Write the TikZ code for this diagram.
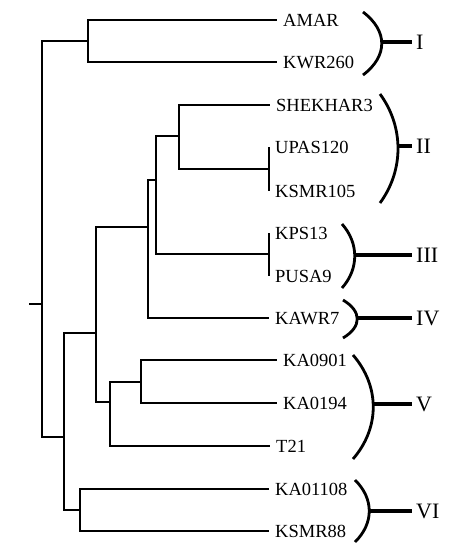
\documentclass[tikz,border=0pt]{standalone}
\usepackage{fontspec}
\setmainfont{Liberation Serif}
\usetikzlibrary{positioning}

\begin{document}
\begin{tikzpicture}[
  x=1pt, y=-1pt,
  font=\fontsize{18.5}{20}\selectfont,
  leaf/.style={anchor=west, inner xsep=6pt, inner ysep=0pt, text height=12pt, text depth=0pt},
  num/.style={anchor=west, inner xsep=4pt, inner ysep=0pt, font=\fontsize{22}{24}\selectfont, text height=14.5pt, text depth=0pt},
  br/.style={line width=2pt},
  bkt/.style={line width=2.8pt},
  bkl/.style={line width=3.2pt}
]
\useasboundingbox (0,0) rectangle (474,558);
\foreach \n/\x/\y/\lab in {amar/277/20/AMAR, kwr/277/62/KWR260, shek/270/105/SHEKHAR3,
    upas/269/147/UPAS120, ksmra/269/191/KSMR105, kps/269/233/KPS13, pusa/269/276/PUSA9,
    kawr/269/318/KAWR7, kaa/277/360/KA0901, kab/277/403/KA0194, t21/270/446/T21,
    kac/269/489/KA01108, ksmrb/269/531/KSMR88}
  \node[leaf] (\n) at (\x,\y) {\lab};
% internal nodes of the tree
\coordinate (stub) at (29,304);
\coordinate (nR) at (42,304);
\coordinate (nI) at (88,41);
\coordinate (nB) at (64,437);
\coordinate (nC) at (96,333);
\coordinate (nD) at (148,227);
\coordinate (nE) at (156,180);
\coordinate (nII) at (179,136);
\coordinate (nUK) at (269,169);
\coordinate (nIII) at (269,254);
\coordinate (nV) at (110,402);
\coordinate (nVa) at (141,382);
\coordinate (nVI) at (80,510);
\draw[br] (stub) -- (nR);
\foreach \p/\ch in {nR/nI, nR/nB, nI/amar.west, nI/kwr.west, nB/nC, nB/nVI,
    nC/nD, nC/nV, nD/nE, nD/kawr.west, nE/nII, nE/nIII, nII/shek.west, nII/nUK,
    nUK/upas.west, nUK/ksmra.west, nIII/kps.west, nIII/pusa.west, nV/nVa, nV/t21.west,
    nVa/kaa.west, nVa/kab.west, nVI/kac.west, nVI/ksmrb.west}
  \draw[br] (\p) |- (\ch);
% cluster brackets
\foreach \g/\xa/\ya/\yb/\cx/\ym in {I/363/12/75/388/42, II/380/94/203/404/146,
    III/342/224/288/359/255, IV/343/300/338/362/318, V/353/355/459/380/404,
    VI/355/480/542/374/511} {
  \draw[bkt] (\xa,\ya) .. controls ({\cx},{\ya+0.3*(\yb-\ya)}) and ({\cx},{\yb-0.3*(\yb-\ya)}) .. (\xa,\yb);
  \coordinate (t\g) at ({0.25*\xa+0.75*\cx},\ym);
  \node[num] (g\g) at (412,\ym) {\g};
  \draw[bkl] (t\g) -- (g\g.west);
}
\end{tikzpicture}
\end{document}
